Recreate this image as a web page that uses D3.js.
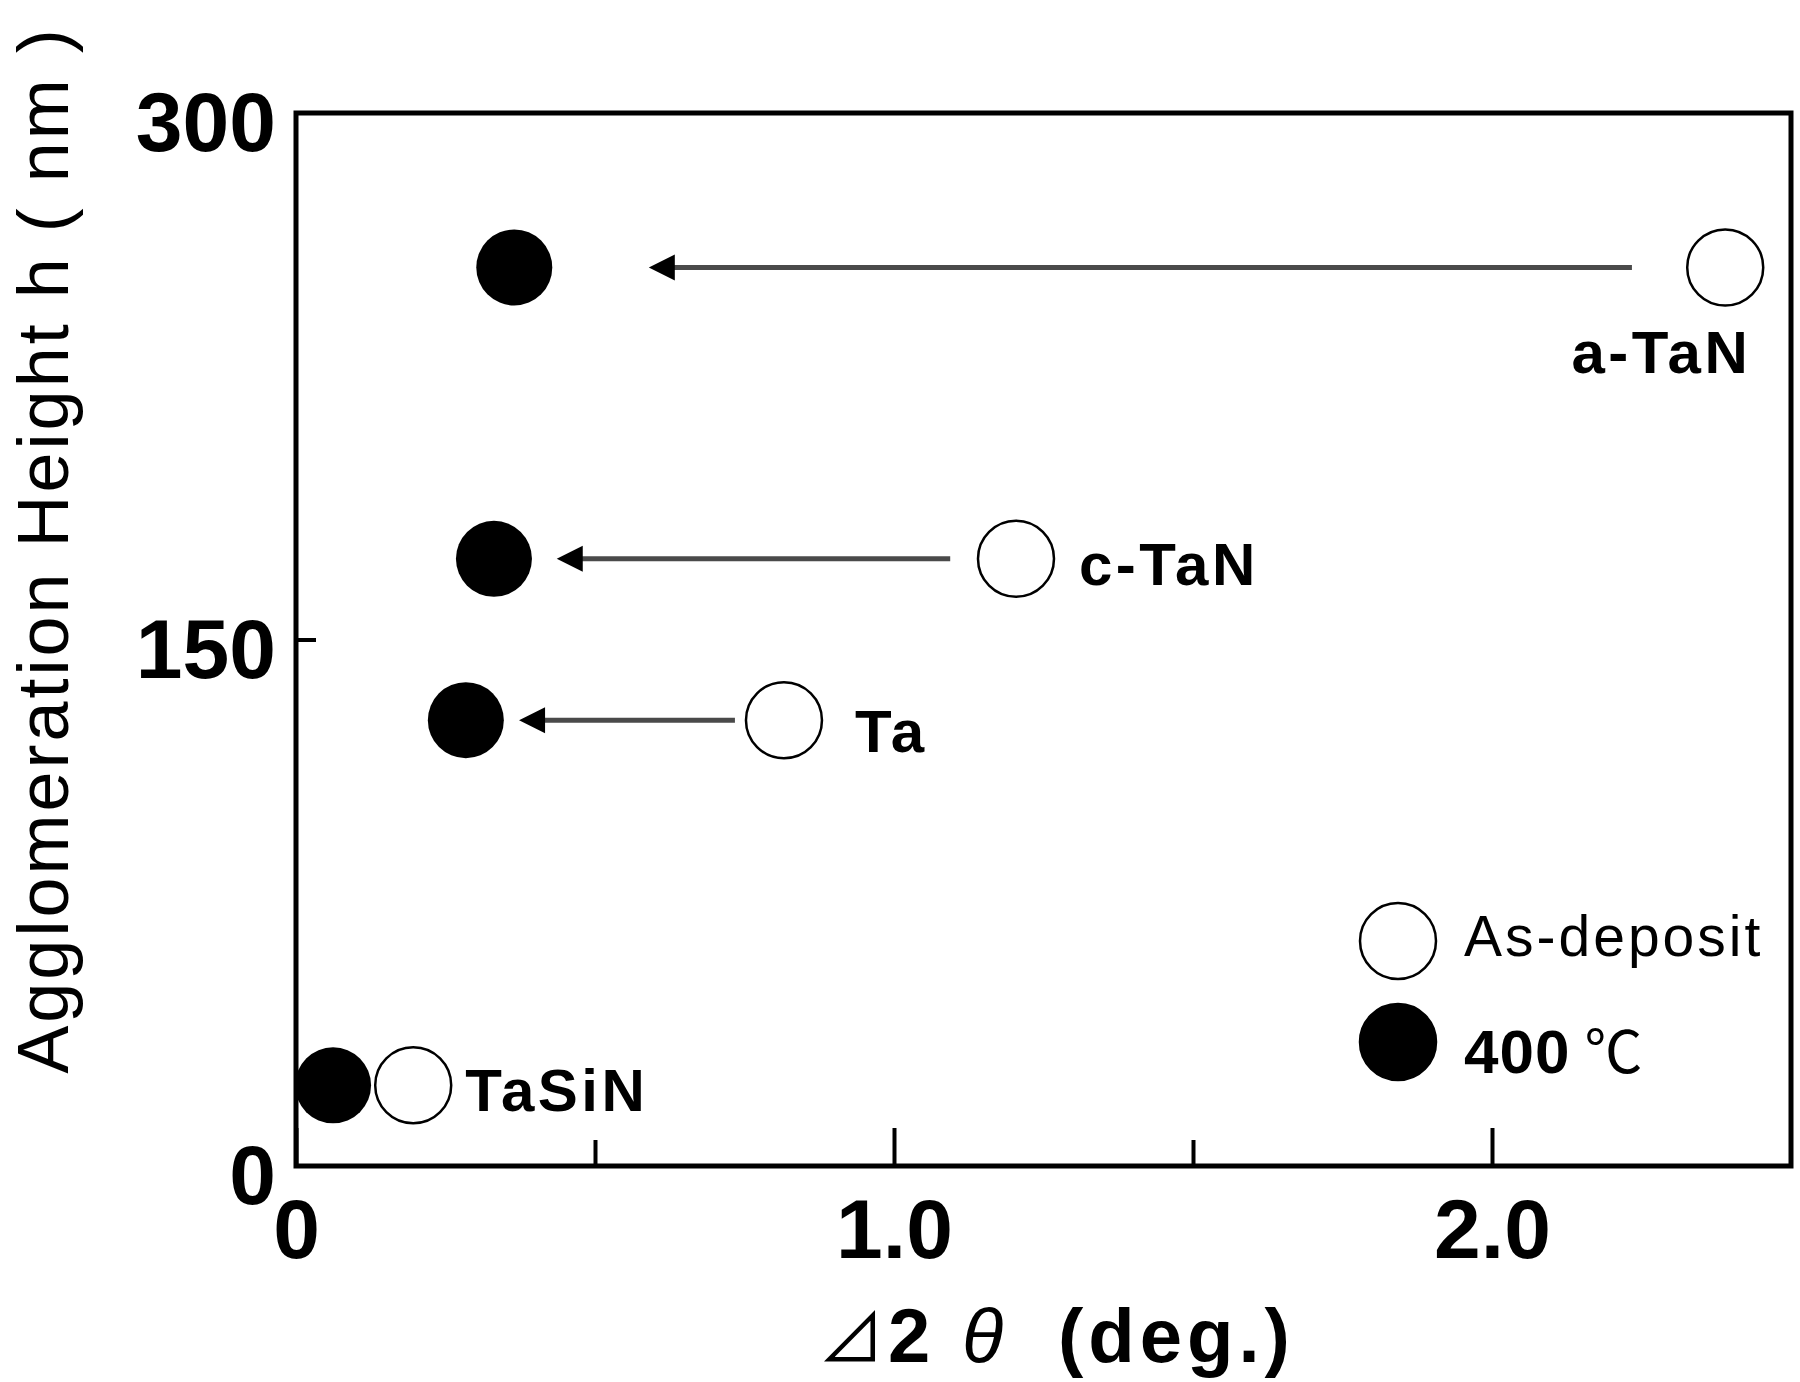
<!DOCTYPE html>
<html>
<head>
<meta charset="utf-8">
<script src="https://cdn.jsdelivr.net/npm/d3@7"></script>
<style>
html, body { margin: 0; padding: 0; background: #fff; }
svg { display: block; font-family: "Liberation Sans", Arial, "DejaVu Sans", sans-serif; }
</style>
</head>
<body>
<svg id="chart" width="1800" height="1382"></svg>
<script>
// values
const samples = ["a-TaN", "c-TaN", "Ta", "TaSiN"];
const asDepositShift = [2.39, 1.204, 0.816, 0.196];   // open circles, deg.
const annealedShift = [0.365, 0.331, 0.284, 0.062];   // filled circles, deg.
const heightNm = [256, 173, 127, 23];
// arrows (deg.), TaSiN has none
const arrowFrom = [2.234, 1.094, 0.734, null];
const arrowTo = [0.590, 0.436, 0.373, null];

const xTicks = [0, 1.0, 2.0];
const xTickLabels = ["0", "1.0", "2.0"];
const xMinorTicks = [0.5, 1.5];
const yTicks = [0, 150, 300];
const yTickLabels = ["0", "150", "300"];
const legendLabels = ["As-deposit", "400"];

// layout
const W = 1800, H = 1382;
const margin = { top: 113, right: 9, bottom: 216, left: 296 };
const R = 38;
const labelOffset = [
    { dx: 26, dy: 106, anchor: "end" },
    { dx: 63, dy: 26, anchor: "start" },
    { dx: 71, dy: 32, anchor: "start" },
    { dx: 52, dy: 26, anchor: "start" }
];

const svg = d3.select("#chart");

const x = d3.scaleLinear().domain([0, 2.5]).range([margin.left, W - margin.right]);
const y = d3.scaleLinear().domain([0, 300]).range([H - margin.bottom, margin.top]);

// axes (ticks point inward)
const gx = svg.append("g")
    .attr("transform", `translate(0,${y(0)})`)
    .call(d3.axisBottom(x).tickValues(xTicks)
        .tickFormat((d, i) => xTickLabels[i])
        .tickSizeInner(-38).tickSizeOuter(0).tickPadding(32));
gx.select(".domain").remove();

const gxMinor = svg.append("g")
    .attr("transform", `translate(0,${y(0)})`)
    .call(d3.axisBottom(x).tickValues(xMinorTicks)
        .tickFormat("").tickSizeInner(-26).tickSizeOuter(0));
gxMinor.select(".domain").remove();

const gy = svg.append("g")
    .attr("transform", `translate(${x(0)},0)`)
    .call(d3.axisLeft(y).tickValues(yTicks)
        .tickFormat((d, i) => yTickLabels[i])
        .tickSizeInner(-20).tickSizeOuter(0).tickPadding(20));
gy.select(".domain").remove();
gy.selectAll(".tick").filter(d => d !== 150).select("line").remove();
gy.selectAll("text").attr("dy", "0.45em");

[gx, gxMinor, gy].forEach(g => {
    g.attr("font-size", null).attr("font-family", null);
    g.selectAll("line").attr("stroke", "#000").attr("stroke-width", 4);
    g.selectAll("text")
        .attr("fill", "#000")
        .style("font-size", "84px")
        .style("font-weight", "bold");
});

// frame
svg.append("rect")
    .attr("x", x(0))
    .attr("y", y(300))
    .attr("width", x(2.5) - x(0))
    .attr("height", y(0) - y(300))
    .attr("fill", "none")
    .attr("stroke", "#000")
    .attr("stroke-width", 5);

// arrows
const idx = d3.range(samples.length);
const arrows = svg.append("g").attr("class", "arrows")
    .selectAll("g")
    .data(idx.filter(i => arrowFrom[i] != null))
    .enter().append("g");

arrows.append("line")
    .attr("x1", i => x(arrowFrom[i]))
    .attr("x2", i => x(arrowTo[i]) + 20)
    .attr("y1", i => y(heightNm[i]))
    .attr("y2", i => y(heightNm[i]))
    .attr("stroke", "#4a4a4a")
    .attr("stroke-width", 5);

arrows.append("path")
    .attr("d", i => {
        const tx = x(arrowTo[i]), ty = y(heightNm[i]);
        return `M${tx},${ty}L${tx + 26},${ty - 13}L${tx + 26},${ty + 13}Z`;
    })
    .attr("fill", "#000");

// points
svg.append("g").attr("class", "annealed")
    .selectAll("circle")
    .data(idx)
    .enter().append("circle")
    .attr("cx", i => x(annealedShift[i]))
    .attr("cy", i => y(heightNm[i]))
    .attr("r", R)
    .attr("fill", "#000");

svg.append("g").attr("class", "as-deposit")
    .selectAll("circle")
    .data(idx)
    .enter().append("circle")
    .attr("cx", i => x(asDepositShift[i]))
    .attr("cy", i => y(heightNm[i]))
    .attr("r", R)
    .attr("fill", "#fff")
    .attr("stroke", "#000")
    .attr("stroke-width", 2.5);

// sample labels
svg.append("g").attr("class", "labels")
    .selectAll("text")
    .data(idx)
    .enter().append("text")
    .attr("x", i => x(asDepositShift[i]) + labelOffset[i].dx)
    .attr("y", i => y(heightNm[i]) + labelOffset[i].dy)
    .attr("text-anchor", i => labelOffset[i].anchor)
    .style("font-size", "60px")
    .style("font-weight", "bold")
    .style("letter-spacing", "3.5px")
    .text(i => samples[i]);

// legend
const legend = svg.append("g").attr("class", "legend")
    .attr("transform", "translate(1398,941)");

legend.selectAll("circle")
    .data(legendLabels)
    .enter().append("circle")
    .attr("cx", 0)
    .attr("cy", (d, i) => i * 101)
    .attr("r", R)
    .attr("fill", (d, i) => i === 0 ? "#fff" : "#000")
    .attr("stroke", "#000")
    .attr("stroke-width", 2.5);

const legendText = legend.selectAll("text")
    .data(legendLabels)
    .enter().append("text")
    .attr("x", 66)
    .attr("y", (d, i) => i === 0 ? 15 : 132)
    .style("font-size", (d, i) => i === 0 ? "57px" : "62px")
    .style("letter-spacing", (d, i) => i === 0 ? "3px" : "1px");
legendText.append("tspan")
    .style("font-weight", (d, i) => i === 0 ? "normal" : "bold")
    .text(d => d);
legendText.filter((d, i) => i === 1).append("tspan")
    .attr("dx", 14)
    .style("font-family", "'Noto Sans CJK JP', 'DejaVu Sans', sans-serif")
    .style("font-size", "58px")
    .text("℃");

// axis titles
svg.append("text")
    .attr("transform", "translate(68,550) rotate(-90)")
    .attr("text-anchor", "middle")
    .style("font-size", "72px")
    .style("letter-spacing", "3px")
    .text("Agglomeration Height h ( nm )");

const xt = svg.append("text")
    .attr("x", 818)
    .attr("y", 1362)
    .style("font-size", "76px");
xt.append("tspan")
    .style("font-family", "'Noto Sans CJK JP', 'DejaVu Sans', sans-serif")
    .style("font-size", "66px")
    .text("⊿");
xt.append("tspan").attr("x", 888).style("font-weight", "bold").text("2");
xt.append("tspan").attr("x", 962).style("font-style", "italic").text("θ");
xt.append("tspan").attr("x", 1058).style("font-weight", "bold")
    .style("letter-spacing", "5px").text("(deg.)");
</script>
</body>
</html>
